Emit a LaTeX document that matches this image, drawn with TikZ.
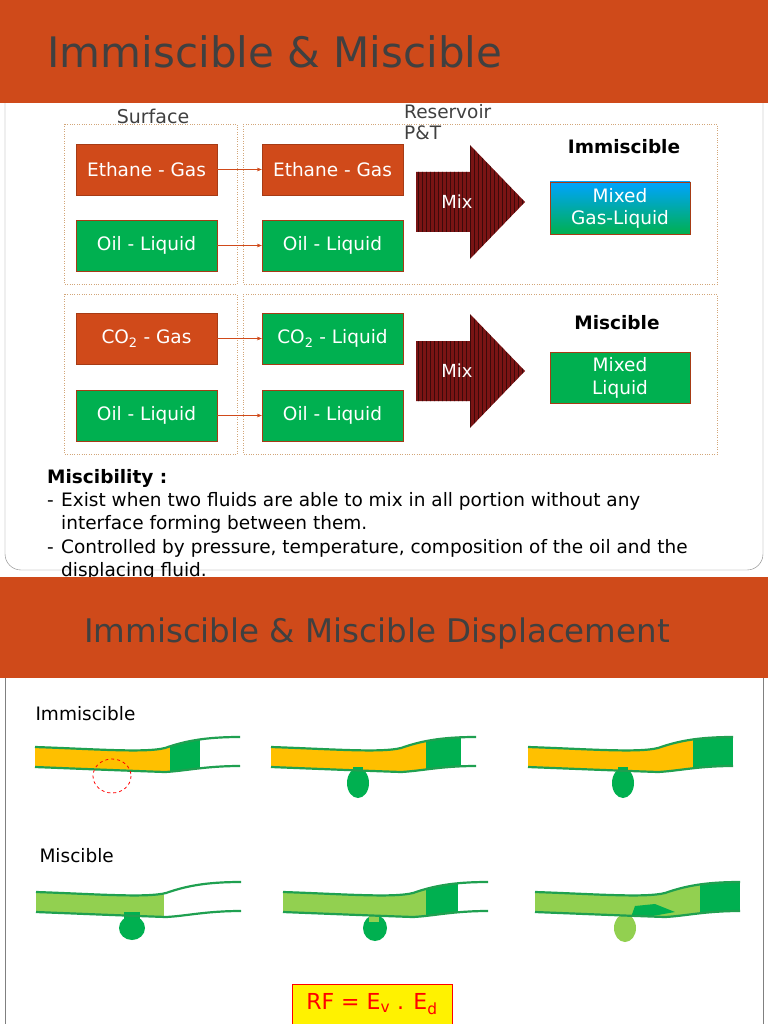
\documentclass[tikz,border=0pt]{standalone}
\usepackage{fontspec}
\setmainfont{DejaVu Sans}
\usetikzlibrary{arrows.meta}
\definecolor{band}{HTML}{CF4A1A}
\definecolor{ttl}{HTML}{404040}
\definecolor{gbox}{HTML}{00B050}
\definecolor{obox}{HTML}{D04A1A}
\definecolor{maroon}{HTML}{7A1414}
\definecolor{ylw}{HTML}{FFC000}
\definecolor{lgr}{HTML}{92D050}
\definecolor{wall}{HTML}{1FA050}
\tikzset{
 x=1pt,y=-1pt,
 gbx/.style={draw=obox!80!black,fill=gbox,text=white,minimum width=141pt,minimum height=51pt,font=\fontsize{18.5}{20}\selectfont,inner sep=0},
 obx/.style={gbx,fill=obox},
 frm/.style={draw=brown!70,dotted,thin},
 conn/.style={draw=obox,-{Stealth[length=5pt]},thin},
 lbl/.style={font=\fontsize{19}{22}\selectfont,text=black},
 txt/.style={font=\fontsize{18.5}{23}\selectfont,anchor=base west,inner sep=0},
 wl/.style={draw=wall,line width=2.2pt},
}
\newcommand\tubeclip{(0,2) .. controls (60,4) and (110,8) .. (130,3) .. controls (150,-4) and (170,-8) .. (205,-8) -- (205,21) .. controls (170,21) and (150,26) .. (130,27) .. controls (100,26) and (50,24) .. (0,22) -- cycle}
\newcommand\tubewalls{\draw[wl] (0,2) .. controls (60,4) and (110,8) .. (130,3) .. controls (150,-4) and (170,-8) .. (205,-8);
 \draw[wl] (0,22) .. controls (50,24) and (100,26) .. (130,27) .. controls (150,26) and (170,21) .. (205,21);}
\newcommand\arrpath[1]{(416,#1-30)--(470,#1-30)--(470,#1-57)--(525,#1)--(470,#1+57)--(470,#1+30)--(416,#1+30)--cycle}
\newcommand\mixarrow[2]{\begin{scope}
 \fill[maroon] \arrpath{#1};
 \clip \arrpath{#1};
 \foreach \xx in {418,422,...,526} {\draw[maroon!50!black,line width=0.6pt] (\xx,#1-60) -- (\xx,#1+60);}
 \end{scope}
 \node[text=white,font=\fontsize{18}{20}\selectfont] (#2) at (457,#1) {Mix};}
\begin{document}
\begin{tikzpicture}
\useasboundingbox (0,0) rectangle (768,1024);
\fill[white] (0,0) rectangle (768,1024);
\draw[gray] (5,678) -- (5,1024) (763,678) -- (763,1024);
\draw[gray,fill=white,rounded corners=16] (5,95) -- (5,570) -- (763,570) -- (763,95);
\draw[frm] (64,124) rectangle (237,284);
\draw[frm] (243,124) rectangle (717,284);
\draw[frm] (64,294) rectangle (237,454);
\draw[frm] (243,294) rectangle (717,454);
\node[lbl,text=ttl] (surf) at (153,116) {Surface};
\node[lbl,text=ttl,anchor=north west,align=left,inner sep=0,font=\fontsize{18.5}{21}\selectfont] (res) at (404,104) {Reservoir\\P\&T};
\node[obx] (e1) at (146.5,169.5) {Ethane - Gas};
\node[obx] (e2) at (332.5,169.5) {Ethane - Gas};
\node[gbx] (o1) at (146.5,245.5) {Oil - Liquid};
\node[gbx] (o2) at (332.5,245.5) {Oil - Liquid};
\node[obx] (c1) at (146.5,338.5) {CO\textsubscript{2} - Gas};
\node[gbx] (c2) at (332.5,338.5) {CO\textsubscript{2} - Liquid};
\node[gbx] (o3) at (146.5,415.5) {Oil - Liquid};
\node[gbx] (o4) at (332.5,415.5) {Oil - Liquid};
\draw[conn] (e1) -- (e2);
\draw[conn] (o1) -- (o2);
\draw[conn] (c1) -- (c2);
\draw[conn] (o3) -- (o4);
\mixarrow{202}{mix1}
\mixarrow{371}{mix2}
\node[lbl,font=\bfseries\fontsize{18.5}{22}\selectfont] (imm) at (624,147) {Immiscible};
\node[lbl,font=\bfseries\fontsize{18.5}{22}\selectfont] (mis) at (617,323) {Miscible};
\node[gbx,minimum width=140pt,minimum height=52pt,top color=blue!20!cyan!80!blue,bottom color=gbox,align=center,font=\fontsize{18.5}{22}\selectfont] (mgl) at (620,208) {Mixed\\Gas-Liquid};
\node[gbx,minimum width=140pt,minimum height=51pt,align=center,font=\fontsize{18.5}{23}\selectfont] (ml) at (620,377.5) {Mixed\\Liquid};
\node[txt,font=\bfseries\fontsize{18.5}{23}\selectfont] (mt) at (47,483) {Miscibility :};
\node[txt] (d1) at (47,506) {-};
\node[txt] (b1) at (61,506) {Exist when two fluids are able to mix in all portion without any};
\node[txt] (b1b) at (61,529) {interface forming between them.};
\node[txt] (d2) at (47,553) {-};
\node[txt] (b2) at (61,553) {Controlled by pressure, temperature, composition of the oil and the};
\node[txt] (b2b) at (61,576) {displacing fluid.};
\fill[band] (0,0) rectangle (768,103);
\node[anchor=west,text=ttl,font=\fontsize{42}{46}\selectfont] (t1) at (44,52) {Immiscible \& Miscible};
\fill[band] (0,577) rectangle (768,678);
\node[text=ttl,font=\fontsize{32.5}{36}\selectfont] (t2) at (377,634) {Immiscible \& Miscible Displacement};
\node[anchor=west,font=\fontsize{18.5}{21}\selectfont] (li) at (32,714) {Immiscible};
\node[anchor=west,font=\fontsize{18.5}{21}\selectfont] (lm) at (36,856) {Miscible};
% tube 1
\begin{scope}[shift={(35,745)}]
\begin{scope}\clip \tubeclip; \fill[ylw] (0,-10) rectangle (140,30); \fill[gbox] (135,-10) rectangle (165,30);\end{scope}
\tubewalls
\draw[red,dashed,thick] (77,31) ellipse (19 and 17);
\end{scope}
% tube 2
\begin{scope}[shift={(271,745)}]
\fill[gbox] (87,38) ellipse (11 and 15);
\begin{scope}\clip \tubeclip; \fill[ylw] (0,-10) rectangle (160,30); \fill[gbox] (155,-10) rectangle (190,30);\end{scope}
\fill[gbox] (82,22) rectangle (92,30);
\tubewalls
\end{scope}
% tube 3
\begin{scope}[shift={(528,745)}]
\fill[gbox] (95,38) ellipse (11 and 15);
\begin{scope}\clip \tubeclip; \fill[ylw] (0,-10) rectangle (170,30); \fill[gbox] (165,-10) rectangle (205,30);\end{scope}
\fill[gbox] (90,22) rectangle (100,30);
\tubewalls
\end{scope}
% tube 4
\begin{scope}[shift={(36,890)}]
\fill[gbox] (96,38) ellipse (13 and 12);
\begin{scope}\clip \tubeclip; \fill[lgr] (0,-10) rectangle (128,30);\end{scope}
\fill[gbox] (88,22) rectangle (104,32);
\tubewalls
\end{scope}
% tube 5
\begin{scope}[shift={(283,890)}]
\fill[gbox] (92,38) ellipse (12 and 13);
\begin{scope}\clip \tubeclip; \fill[lgr] (0,-10) rectangle (150,30); \fill[gbox] (143,-10) rectangle (175,30);\end{scope}
\fill[lgr] (86,22) rectangle (96,32);
\tubewalls
\end{scope}
% tube 6
\begin{scope}[shift={(535,890)}]
\fill[lgr] (90,38) ellipse (11 and 14);
\begin{scope}\clip \tubeclip; \fill[lgr] (0,-10) rectangle (175,30); \fill[gbox] (165,-10) rectangle (205,30); \fill[gbox] (95,30) -- (100,16) -- (120,14) -- (140,22) -- cycle;\end{scope}
\fill[lgr] (84,22) rectangle (96,32);
\tubewalls
\end{scope}
\node[draw=red,fill=yellow,text=red,minimum width=160pt,minimum height=40pt,font=\fontsize{22}{24}\selectfont,inner sep=0] (rf) at (372,1004) {RF = E\textsubscript{v} . E\textsubscript{d}};
\end{tikzpicture}
\end{document}
